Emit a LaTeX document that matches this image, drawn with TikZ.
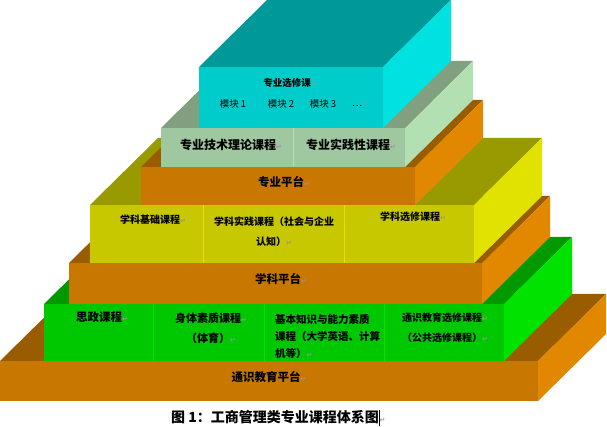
\documentclass[tikz,border=0pt]{standalone}
\usepackage{fontspec}
\setmainfont{Noto Sans CJK SC}
\newfontfamily\markfont{DejaVu Sans}
\usepackage{tikz}
\usetikzlibrary{calc}

\definecolor{cyanfront}{RGB}{0,204,204}
\definecolor{cyantop}{RGB}{0,153,153}
\definecolor{cyanside}{RGB}{0,226,226}
\definecolor{sagefront}{RGB}{160,200,160}
\definecolor{sagetop}{RGB}{128,160,128}
\definecolor{sageside}{RGB}{178,224,178}
\definecolor{orangefront}{RGB}{200,120,0}
\definecolor{orangetop}{RGB}{153,92,0}
\definecolor{orangeside}{RGB}{226,136,0}
\definecolor{olivefront}{RGB}{200,200,0}
\definecolor{olivetop}{RGB}{153,153,0}
\definecolor{oliveside}{RGB}{226,226,0}
\definecolor{greenfront}{RGB}{0,200,0}
\definecolor{greentop}{RGB}{0,153,0}
\definecolor{greenside}{RGB}{0,226,0}
\definecolor{markgray}{RGB}{150,150,150}

\newcommand{\parmark}{{\markfont\color{markgray}\fontsize{7}{7}\selectfont ↵}}

\tikzset{
	boxfront/.style = { fill = #1front },
	boxtop/.style = { fill = #1top },
	boxside/.style = { fill = #1side },
	divider/.style = { draw = #1side, line width = 0.8pt },
	platform/.style = { font = \bfseries\fontsize{11.5}{14}\selectfont, inner sep = 0pt },
	course/.style = { font = \bfseries\fontsize{12}{14}\selectfont, inner sep = 0pt },
	smallcourse/.style = { font = \bfseries\fontsize{10}{20}\selectfont, inner sep = 0pt, align = center },
}

\begin{document}
\begin{tikzpicture}[x = 1pt, y = -1pt]
	\useasboundingbox (0, 0) rectangle (607, 427);

	% Base platform.
	\fill [boxtop = orange] (0, 361) -- ++(68, -67) -- ++(538, 0) -- (538, 361) -- cycle;
	\fill [boxside = orange] (538, 361) -- ++(68, -67) -- ++(0, 40) -- (538, 401) -- cycle;
	\fill [boxfront = orange] (0, 361) rectangle (538, 401);

	% General courses.
	\fill [boxtop = green] (44, 304) -- ++(68, -67) -- ++(460, 0) -- (504, 304) -- cycle;
	\fill [boxside = green] (504, 304) -- ++(68, -67) -- ++(0, 57) -- (504, 361) -- cycle;
	\fill [boxfront = green] (44, 304) rectangle (504, 361);
	\draw [divider = green] (153, 304) -- (153, 361);
	\draw [divider = green] (264, 304) -- (264, 361);
	\draw [divider = green] (384, 304) -- (384, 361);

	% Discipline platform.
	\fill [boxtop = orange] (69, 263) -- ++(68, -67) -- ++(413, 0) -- (482, 263) -- cycle;
	\fill [boxside = orange] (482, 263) -- ++(68, -67) -- ++(0, 41) -- (482, 304) -- cycle;
	\fill [boxfront = orange] (69, 263) rectangle (482, 304);

	% Discipline courses.
	\fill [boxtop = olive] (90, 205) -- ++(68, -67) -- ++(384, 0) -- (474, 205) -- cycle;
	\fill [boxside = olive] (474, 205) -- ++(68, -67) -- ++(0, 58) -- (474, 263) -- cycle;
	\fill [boxfront = olive] (90, 205) rectangle (474, 263);
	\draw [divider = olive] (203, 205) -- (203, 263);
	\draw [divider = olive] (344, 205) -- (344, 263);

	% Major platform.
	\fill [boxtop = orange] (141, 167) -- ++(68, -67) -- ++(274, 0) -- (415, 167) -- cycle;
	\fill [boxside = orange] (415, 167) -- ++(68, -67) -- ++(0, 38) -- (415, 205) -- cycle;
	\fill [boxfront = orange] (141, 167) rectangle (415, 205);

	% Major courses.
	\fill [boxtop = sage] (161, 128) -- ++(68, -67) -- ++(244, 0) -- (405, 128) -- cycle;
	\fill [boxside = sage] (405, 128) -- ++(68, -67) -- ++(0, 39) -- (405, 167) -- cycle;
	\fill [boxfront = sage] (161, 128) rectangle (405, 167);
	\draw [divider = sage] (293, 128) -- (293, 167);

	% Electives.
	\fill [boxtop = cyan] (199, 67) -- ++(68, -67) -- ++(184, 0) -- (383, 67) -- cycle;
	\fill [boxside = cyan] (383, 67) -- ++(68, -67) -- ++(0, 61) -- (383, 128) -- cycle;
	\fill [boxfront = cyan] (199, 67) rectangle (383, 128);

	\node [smallcourse, font = \bfseries\fontsize{9.5}{11}\selectfont] (elective) at (290, 83) {专业选修课\parmark};
	\node [smallcourse, font = \fontsize{9.5}{11}\selectfont] (mod1) at (233, 104) {模块 1};
	\node [smallcourse, font = \fontsize{9.5}{11}\selectfont] (mod2) at (281, 104) {模块 2};
	\node [smallcourse, font = \fontsize{9.5}{11}\selectfont] (mod3) at (323, 104) {模块 3};
	\node [smallcourse, font = \fontsize{9.5}{11}\selectfont] (modmore) at (360, 104) {…\parmark};

	\node [course] (theory) at (231, 145) {专业技术理论课程\parmark};
	\node [course] (practice) at (351, 145) {专业实践性课程\parmark};
	\node [platform] (majorplat) at (284, 182) {专业平台\parmark};

	\node [smallcourse] (basics) at (153, 220) {学科基础课程\parmark};
	\node [smallcourse] (social) at (274, 232) {学科实践课程（社会与企业\\认知）\parmark};
	\node [smallcourse] (discelect) at (413, 217) {学科选修课程\parmark};
	\node [platform] (discplat) at (281, 279) {学科平台\parmark};

	\node [platform] (politics) at (102, 317) {思政课程\parmark};
	\node [smallcourse, font = \bfseries\fontsize{11}{20}\selectfont] (sports) at (211, 328) {身体素质课程\parmark\\（体育）\parmark};
	\node [smallcourse, align = left, anchor = west, font = \bfseries\fontsize{10.5}{17}\selectfont] (skills) at (275, 336) {基本知识与能力素质\\课程（大学英语、计算\\机等）\parmark};
	\node [smallcourse] (general) at (445, 328) {通识教育选修课程\parmark\\（公共选修课程）\parmark};
	\node [platform] (genplat) at (269, 377) {通识教育平台\parmark};

	\node [platform, anchor = west, font = \bfseries\fontsize{14}{16}\selectfont] (caption) at (171, 418) {图 1：工商管理类专业课程体系图\rule[-0.2em]{0.8pt}{1.1em}\parmark};
\end{tikzpicture}
\end{document}
